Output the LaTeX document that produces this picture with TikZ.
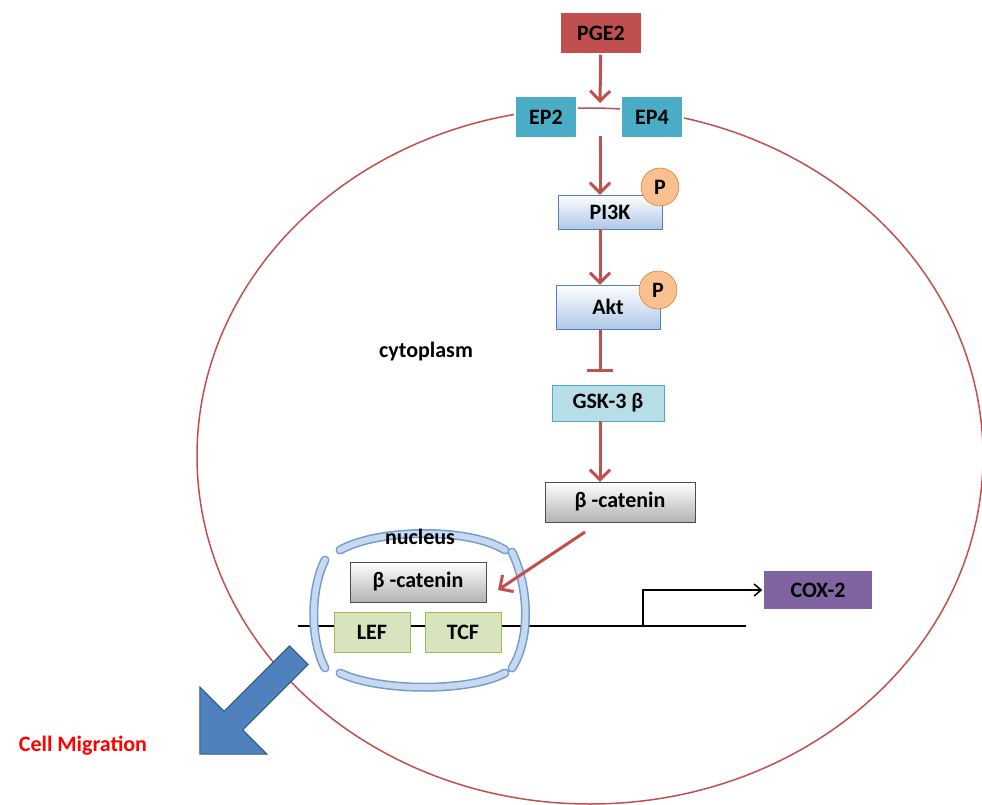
\documentclass[tikz,border=0pt]{standalone}
\usepackage{fontspec}
\setmainfont{Carlito}
\usetikzlibrary{shapes.arrows,arrows.meta}
\definecolor{pgered}{HTML}{C0504D}
\definecolor{epteal}{HTML}{4BACC6}
\definecolor{pkblue}{HTML}{C6D9F1}
\definecolor{pkedge}{HTML}{4F81BD}
\definecolor{porange}{HTML}{FAC090}
\definecolor{gskcyan}{HTML}{B7DEE8}
\definecolor{lefgreen}{HTML}{D7E4BD}
\definecolor{lefedge}{HTML}{9BBB59}
\definecolor{coxpurple}{HTML}{8064A2}
\tikzset{
  lbl/.style={font=\fontsize{22}{26}\selectfont\bfseries},
  box/.style={lbl,draw,rectangle,inner sep=0pt},
  recp/.style={box,draw=white,line width=1.5pt,fill=epteal,minimum width=62,minimum height=42},
  kin/.style={box,draw=pkedge,top color=white,bottom color=pkblue!80!pkedge,minimum width=104,minimum height=34},
  phos/.style={lbl,circle,draw=orange!80!black,fill=porange,minimum size=38,inner sep=0pt},
  grey/.style={box,draw=black!70,top color=white,bottom color=black!30},
  fac/.style={box,draw=lefedge,fill=lefgreen,minimum width=76,minimum height=40},
  sig/.style={draw=pgered,line width=3pt,-{Straight Barb[length=10pt,width=20pt]}},
  inh/.style={draw=pgered,line width=3pt,-{Bar[width=26pt]}},
  nuc/.style={line width=9pt,draw=pkedge!80,line cap=round},
  nucin/.style={line width=6pt,draw=pkblue,line cap=round}
}
\begin{document}
\begin{tikzpicture}[x=1pt,y=-1pt]
\useasboundingbox (0,0) rectangle (982,805);
% cell membrane
\begin{scope}
\clip (0,0) rectangle (982,805);
\draw[pgered,line width=1.5pt] (590,456) ellipse [x radius=393,y radius=348];
\end{scope}
% receptors and signalling chain
\node[box,draw=white,line width=1.5pt,fill=pgered,minimum width=82,minimum height=42] (pge) at (601,33) {PGE2};
\node[recp] (ep2) at (546,117) {EP2};
\node[recp] (ep4) at (652,117) {EP4};
\coordinate (mid) at (600,103);
\node[kin] (pi3k) at (610,212) {PI3K};
\node[phos] (p1) at (660,187) {P};
\node[kin,minimum height=44] (akt) at (608,307) {Akt};
\node[phos] (p2) at (658,290) {P};
\node[box,draw=epteal,fill=gskcyan,minimum width=112,minimum height=36] (gsk) at (608,403) {GSK-3 β};
\node[grey,minimum width=150,minimum height=40] (bcat) at (620,502) {β -catenin};
\node[lbl] (cyto) at (426,352) {cytoplasm};
% gene and nucleus
\coordinate (dnaL) at (298,626);
\coordinate (dnaR) at (746,626);
\coordinate (prom) at (643,626);
\coordinate (promtop) at (643,590);
\draw[line width=1.5pt] (dnaL) -- (dnaR);
\node[box,draw=white,line width=1.5pt,fill=coxpurple,minimum width=110,minimum height=40] (cox) at (818,590) {COX-2};
\draw[line width=1.5pt,-{Straight Barb[length=7pt,width=12pt]}] (prom) -- (promtop) -- (cox.west);
\node[grey,minimum width=136,minimum height=40] (nbcat) at (418,582) {β -catenin};
\node[fac] (lef) at (372,632) {LEF};
\node[fac] (tcf) at (463,632) {TCF};
\foreach \s in {nuc,nucin}{
  \draw[\s] (340,550) .. controls (380,528) and (470,528) .. (505,550);
  \draw[\s] (340,673) .. controls (380,692) and (470,692) .. (505,673);
  \draw[\s] (325,560) .. controls (310,590) and (310,640) .. (325,668);
  \draw[\s] (512,552) .. controls (530,590) and (530,640) .. (512,668);
}
\node[lbl] (nlbl) at (420,537) {nucleus};
% arrows
\draw[sig] (pge) -- (mid);
\draw[sig] (600,136) -- (pi3k.north -| 600,0);
\draw[sig] (pi3k.south -| 600,0) -- (akt.north -| 600,0);
\draw[inh] (akt.south -| 600,0) -- (600,372);
\draw[sig] (gsk.south -| 600,0) -- (bcat.north -| 600,0);
\draw[sig] (585,532) -- (498,590);
% migration
\node[single arrow,draw=pkedge!70!black,fill=pkedge,line width=1pt,minimum width=95,minimum height=140,single arrow head extend=10,rotate=-135] (mig) at (254,700) {};
\node[lbl,text=red] (cm) at (83,746) {Cell Migration};
\end{tikzpicture}
\end{document}
